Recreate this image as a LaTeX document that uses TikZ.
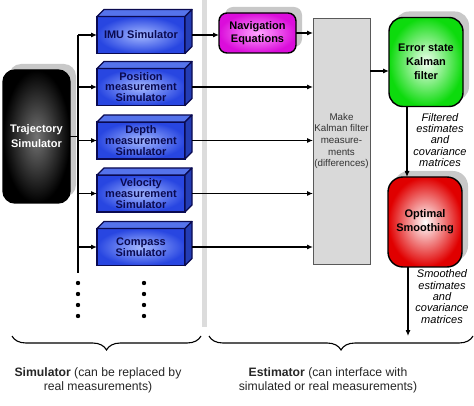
\documentclass[tikz,border=0pt]{standalone}
\usepackage{fontspec}
\setmainfont{Liberation Sans}
\usetikzlibrary{arrows.meta,shadows,decorations.pathreplacing}
\definecolor{navy}{RGB}{10,10,80}
\definecolor{bluein}{RGB}{165,185,255}
\definecolor{blueout}{RGB}{40,70,225}
\definecolor{bluetop}{RGB}{85,115,235}
\definecolor{blueside}{RGB}{35,60,180}
\definecolor{shadowgray}{RGB}{200,200,200}
\definecolor{sepgray}{RGB}{220,220,220}
\begin{document}
\begin{tikzpicture}[x=1pt,y=-1pt,
    line/.style={line width=1.1pt},
    arr/.style={line,-{Latex[length=6pt,width=5pt]}},
    simbox/.style={draw=navy,line width=1.3pt,inner color=bluein,outer color=blueout,
      minimum width=88pt,minimum height=37pt,inner sep=0pt,outer sep=0pt,align=center,
      text=navy,font=\bfseries\fontsize{11}{10.8}\selectfont},
    topface/.style={draw=navy,line width=1.3pt,fill=bluetop,line join=round},
    sideface/.style={draw=navy,line width=1.3pt,fill=blueside,line join=round},
    shadowed/.style={drop shadow={shadow xshift=6pt,shadow yshift=6pt,fill=shadowgray,opacity=1}},
    roundbox/.style={shadowed,draw=black,line width=1.4pt,align=center,inner sep=0pt,outer sep=0pt,
      font=\bfseries\fontsize{11}{14}\selectfont},
    note/.style={align=center,font=\itshape\fontsize{11}{11.3}\selectfont},
    brace/.style={line,decorate,decoration={brace,amplitude=14pt}}]
    \useasboundingbox (0,0) rectangle (474,406);
    % separator
    \fill[sepgray] (202,0) rectangle (207,327);
    % simulator side
    \node[roundbox,rounded corners=12pt,inner color=black!55,outer color=black,text=white,
      minimum width=67pt,minimum height=133pt,font=\bfseries\fontsize{11}{15}\selectfont]
      (traj) at (36.5,136.5) {Trajectory\\Simulator};
    \coordinate (bt) at (78,35); \coordinate (bb) at (78,273);
    \draw[line] (bt) -- (bb);
    \draw[line] (traj.east) -- (traj.east -| bt);
    \foreach \nm/\yy/\txt in {imu/35/{IMU Simulator},pos/87/{Position\\measurement\\Simulator},
        dep/140.5/{Depth\\measurement\\Simulator},vel/193.5/{Velocity\\measurement\\Simulator},
        cmp/247/{Compass\\Simulator}}{
      \node[simbox] (\nm) at (141,\yy) {\txt};
      \draw[topface] (\nm.north west) -- ++(7,-7) -- ([shift={(7,-7)}]\nm.north east) -- (\nm.north east) -- cycle;
      \draw[sideface] (\nm.north east) -- ++(7,-7) -- ([shift={(7,-7)}]\nm.south east) -- (\nm.south east) -- cycle;
      \draw[arr] (\nm.west -| bt) -- (\nm.west);
    }
    \foreach \yy in {283,294,305,316}{
      \fill (78,\yy) circle (2.2);
      \fill (144,\yy) circle (2.2);
    }
    % estimator side
    \node[roundbox,rounded corners=8pt,inner color=magenta!35,outer color=magenta!85!black!95,
      minimum width=77pt,minimum height=40pt,font=\bfseries\fontsize{11}{12.5}\selectfont]
      (nav) at (257.5,33) {Navigation\\Equations};
    \node[draw=black!65,line width=0.8pt,fill=black!15,minimum width=57pt,minimum height=246pt,
      inner sep=0pt,outer sep=0pt,align=center,text=black!80,font=\fontsize{9.8}{11.7}\selectfont]
      (make) at (341.5,141) {Make\\Kalman filter\\measure-\\ments\\(differences)};
    \node[roundbox,rounded corners=14pt,inner color=green!5,outer color=green!85!black!95,
      minimum width=74pt,minimum height=89pt] (eskf) at (426,62) {Error state\\Kalman\\filter};
    \node[roundbox,rounded corners=15pt,inner color=white,outer color=red!88!black,
      minimum width=74pt,minimum height=90pt] (smooth) at (425,222) {Optimal\\Smoothing};
    \draw[arr] ([xshift=7pt]imu.east) -- (imu.east -| nav.west);
    \draw[arr] (nav.east) -- (nav.east -| make.west);
    \foreach \nm in {pos,dep,vel,cmp}
      \draw[arr] ([xshift=7pt]\nm.east) -- (\nm.east -| make.west);
    \coordinate (mk) at ([yshift=-53pt]make.north east);
    \draw[arr] (mk) -- (mk -| eskf.west);
    \coordinate (ek) at ([xshift=-19pt]eskf.south);
    \draw[arr] (ek) -- (ek |- smooth.north);
    \coordinate (sm) at ([xshift=-17pt]smooth.south);
    \coordinate (out) at (408,336);
    \draw[arr] (sm) -- (sm |- out);
    \node[note] (filt) at (440,140) {Filtered\\estimates\\and\\covariance\\matrices};
    \node[note] (smth) at (442,296.5) {Smoothed\\estimates\\and\\covariance\\matrices};
    % braces
    \draw[brace] (201,336) -- (12,336);
    \draw[brace] (473,336) -- (209,336);
    \node[align=center,text=black!85,font=\fontsize{12.2}{14}\selectfont] (simlab) at (98,380)
      {\textbf{Simulator} (can be replaced by\\real measurements)};
    \node[align=center,text=black!85,font=\fontsize{12.2}{14}\selectfont] (estlab) at (328,380)
      {\textbf{Estimator} (can interface with\\simulated or real measurements)};
\end{tikzpicture}
\end{document}
